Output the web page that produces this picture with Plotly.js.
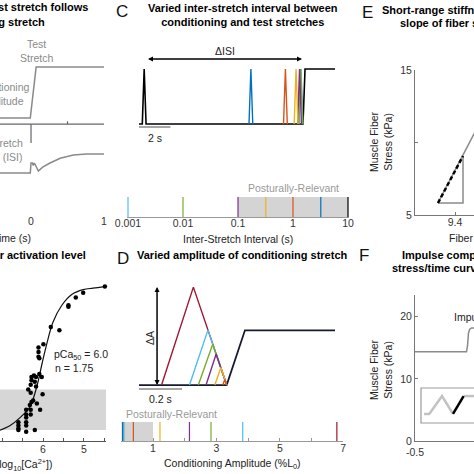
<!DOCTYPE html>
<html>
<head>
<meta charset="utf-8">
<script src="https://cdn.plot.ly/plotly-3.0.1.min.js"></script>
<style>
  html, body { margin: 0; padding: 0; background: #fff; }
  #plot { width: 474px; height: 474px; }
</style>
</head>
<body>
<div id="plot"></div>
<script>
// ---- panel A: schematic of conditioning + test stretch (time in s, schematic units)
var aLengthT = [-0.43, -0.01, 0.07, 1.0];
var aLengthY = [6.31, 6.31, 9.55, 9.55];
var aIsiT = [-0.43, 1.0, null, 0.5, 0.5, null, 0, 0];
var aIsiY = [5.92, 5.92, null, 5.92, 6.1, null, 5.92, 4.71];
var aForceT = [-0.43, -0.01, 0.0, 0.02, 0.03, 0.045, 0.06, 0.10, 0.16, 0.26, 0.40, 0.58, 0.76, 1.0];
var aForceY = [2.80, 2.80, 3.44, 3.44, 3.28, 3.44, 3.31, 2.93, 3.18, 3.44, 3.74, 3.95, 4.01, 4.01];

// ---- panel B: activation vs pCa
var pCaFit = [7.05, 6.80, 6.56, 6.32, 6.15, 6.02, 5.90, 5.76, 5.54, 5.29, 5.02, 4.78, 4.49];
var forceFit = [0.07, 0.10, 0.15, 0.22, 0.35, 0.50, 0.63, 0.76, 0.87, 0.94, 0.97, 0.98, 0.99];
var pCaPts = [4.49, 5.02, 5.20, 5.38, 5.38, 5.60, 5.81, 5.99, 6.11, 6.11, 6.11, 6.09, 6.22, 6.28,
  6.28, 6.20, 6.03, 6.30, 6.30, 6.17, 6.24, 6.28, 6.15, 6.01, 6.07, 6.20, 6.41, 6.41, 6.41, 6.41,
  6.41, 6.41, 6.60, 6.60, 6.60, 6.60, 6.32, 6.36, 6.09, 6.17, 6.30, 6.30];
var forcePts = [0.99, 0.95, 0.92, 0.87, 0.86, 0.71, 0.73, 0.62, 0.60, 0.57, 0.54, 0.53, 0.42, 0.41,
  0.39, 0.38, 0.41, 0.36, 0.31, 0.35, 0.26, 0.25, 0.24, 0.30, 0.20, 0.07, 0.20, 0.17, 0.15, 0.12,
  0.10, 0.06, 0.12, 0.10, 0.08, 0.07, 0.23, 0.33, 0.43, 0.41, 0.20, 0.17];
var activationBand = [0.07, 0.33];

// ---- panel C: inter-stretch intervals (s)
var isiValues = [0.001, 0.01, 0.1, 0.32, 1, 3.2, 10];
var isiColors = ['#4DBEEE', '#77AC30', '#7E2F8E', '#EDB120', '#D95319', '#0072BD', '#000000'];
var isiTickVals = [0.001, 0.01, 0.1, 1, 10];
var isiTickText = ['0.001', '0.01', '0.1', '1', '10'];
var posturalIsi = [0.1, 10];
// inset: black trace (first conditioning spike + test stretch), colored spike apex times
var cBlackT = [-10.45, -10.24, -10.12, -10.0, 0, 0.13, 2.04];
var cBlackY = [0, 0, 1, 0, 0, 1, 1];
var cSpikeApex = [-0.13, -0.14, -0.22, -0.44, -1.12, -3.32];
var cSpikeHalf = 0.12;

// ---- panel D: conditioning amplitudes (%L0)
var ampValues = [0.04, 0.08, 0.38, 1.22, 2.15, 2.83, 3.83, 6.8];
var ampColors = ['#0072BD', '#4a9fb5', '#D95319', '#EDB120', '#7E2F8E', '#77AC30', '#4DBEEE', '#A2142F'];
var ampTickVals = [1, 2, 3, 4, 5, 6, 7];
var ampTickText = ['1', '', '3', '', '5', '', '7'];
var posturalAmp = [0, 1];
var dBlackT = [0, 0.408, 0.493, 0.912];
var dBlackY = [0, 0, 3.8, 3.8];
var dCondStart = [0.105, 0.235, 0.276, 0.312, 0.353, 0.39];
var dCondApex = [0.253, 0.321, 0.343, 0.359, 0.381, 0.399];
var dCondAmp = [6.8, 3.83, 2.83, 2.15, 1.22, 0.38];
var dCondEnd = 0.408;
var dCondColors = ['#A2142F', '#4DBEEE', '#77AC30', '#7E2F8E', '#EDB120', '#D95319'];

// ---- panel E: stress vs fiber length
var eLength = [9.3575, 9.42, 9.435, 9.45];
var eStress = [5.83, 9.07, 9.95, 10.72];
var eTriL = [9.3575, 9.42, 9.42];
var eTriS = [5.83, 5.83, 9.07];
var eSlopeL = [9.3575, 9.42];
var eSlopeS = [5.83, 9.07];

// ---- panel F: stress vs time
var fTime = [-0.5, -0.294, -0.29, -0.286, -0.281, -0.274, -0.26];
var fStress = [14.35, 14.35, 15.3, 17.4, 18.0, 18.2, 18.2];
var fInsetGrayT = [0.04, 0.14, 0.385, 0.596, null, 0.80, 1.0];
var fInsetGrayY = [0.26, 0.26, 0.77, 0.26, null, 0.77, 0.77];
var fInsetBlackT = [0.596, 0.80];
var fInsetBlackY = [0.26, 0.77];

var W = 474;
function px(x) { return x / W; }
function py(y) { return 1 - y / W; }
var FONT = 'Liberation Sans, Arial, Helvetica, sans-serif';
var GRAY = '#8a8a8a';

function line(x, y, xa, ya, color, width, dash) {
  return {x: x, y: y, xaxis: xa, yaxis: ya, type: 'scatter', mode: 'lines',
    line: {color: color, width: width, dash: dash || 'solid'}, hoverinfo: 'skip', cliponaxis: false};
}

var data = [];
// A
data.push(line(aLengthT, aLengthY, 'x', 'y', GRAY, 1.5));
data.push(line(aIsiT, aIsiY, 'x', 'y', '#666', 1.2));
data.push(line(aForceT, aForceY, 'x', 'y', GRAY, 1.5));
// B
data.push({x: pCaFit, y: forceFit, xaxis: 'x2', yaxis: 'y2', type: 'scatter', mode: 'lines',
  line: {color: '#111', width: 1.2, shape: 'spline'}, hoverinfo: 'skip', cliponaxis: false});
data.push({x: pCaPts, y: forcePts, xaxis: 'x2', yaxis: 'y2', type: 'scatter', mode: 'markers',
  marker: {color: '#000', size: 4.5}, hoverinfo: 'skip', cliponaxis: false});
// C inset
data.push(line(cBlackT, cBlackY, 'x3', 'y3', '#000', 1.6));
for (var i = 0; i < cSpikeApex.length; i++) {
  var a = cSpikeApex[i];
  data.push(line([a - cSpikeHalf, a, a + cSpikeHalf], [0, 1, 0], 'x3', 'y3', isiColors[i], 1.4));
}
// C ISI axis ticks
for (var j = 0; j < isiValues.length; j++) {
  data.push(line([isiValues[j], isiValues[j]], [0, 1], 'x4', 'y4', isiColors[j], 1.2));
}
// D inset
data.push(line(dBlackT, dBlackY, 'x5', 'y5', '#161a2e', 1.8));
for (var k = 0; k < dCondAmp.length; k++) {
  data.push(line([dCondStart[k], dCondApex[k], dCondEnd], [0, dCondAmp[k], 0], 'x5', 'y5', dCondColors[k], 1.4));
}
// D amplitude axis ticks
for (var m = 0; m < ampValues.length; m++) {
  data.push(line([ampValues[m], ampValues[m]], [0, 1], 'x6', 'y6', ampColors[m], 1.2));
}
// E
data.push(line(eLength, eStress, 'x7', 'y7', GRAY, 1.5));
data.push(line(eTriL, eTriS, 'x7', 'y7', GRAY, 1.5));
data.push(line(eSlopeL, eSlopeS, 'x7', 'y7', '#000', 2.5, '4px,2.5px'));
// F
data.push(line(fTime, fStress, 'x8', 'y8', GRAY, 1.5));
data.push(line(fInsetGrayT, fInsetGrayY, 'x9', 'y9', '#c2c2c2', 2.5));
data.push(line(fInsetBlackT, fInsetBlackY, 'x9', 'y9', '#000', 2.5));

var tickFont = {family: FONT, size: 10.5, color: '#333'};
function hidden(domain, range, anchor) {
  return {domain: domain, range: range, anchor: anchor, visible: false, fixedrange: true};
}
function shownX(domain, range, anchor, extra) {
  var ax = {domain: domain, range: range, anchor: anchor, showgrid: false, zeroline: false,
    showline: true, linecolor: '#777', linewidth: 1, ticks: 'inside', ticklen: 3, tickcolor: '#777',
    tickfont: tickFont, tickmode: 'array', fixedrange: true};
  for (var key in extra) ax[key] = extra[key];
  return ax;
}

function note(text, x, y, opts) {
  var a = {text: text, x: px(x), y: py(y), xref: 'paper', yref: 'paper', showarrow: false,
    xanchor: 'center', yanchor: 'middle', font: {family: FONT, size: 10.5, color: '#222'}};
  opts = opts || {};
  for (var key in opts) {
    if (key === 'size' || key === 'color') a.font[key] = opts[key];
    else a[key] = opts[key];
  }
  return a;
}

var annotations = [
  // A
  note('<b>Test stretch follows</b>', 90, 7, {xanchor: 'right', size: 11, color: '#000'}),
  note('<b>conditioning stretch</b>', 47, 22, {xanchor: 'right', size: 11, color: '#000'}),
  note('Test<br>Stretch', 36, 51, {color: GRAY}),
  note('Conditioning<br>Amplitude', 32, 94, {xanchor: 'right', color: GRAY}),
  note('Inter-Stretch<br>Interval (ISI)', 25, 150, {xanchor: 'right', color: GRAY}),
  note('Time (s)', 33, 238, {xanchor: 'right'}),
  // B
  note('<b>Varied fiber activation level</b>', 88, 255, {xanchor: 'right', size: 11, color: '#000'}),
  note('pCa<sub>50</sub> = 6.0', 52, 355, {xanchor: 'left'}),
  note('n = 1.75', 53, 368, {xanchor: 'left'}),
  note('pCa (-log<sub>10</sub>[Ca<sup>2+</sup>])', 55, 465, {xanchor: 'right'}),
  // C
  note('C', 122, 11, {size: 17, color: '#111'}),
  note('<b>Varied inter-stretch interval between<br>conditioning and test stretches</b>', 243, 15, {size: 11, color: '#000'}),
  note('\u0394ISI', 225, 51),
  {x: px(302), y: py(59), xref: 'paper', yref: 'paper', ax: -154, ay: 0, text: '', showarrow: true,
    arrowhead: 2, arrowsize: 1, arrowwidth: 1, arrowcolor: '#000'},
  {x: px(148), y: py(59), xref: 'paper', yref: 'paper', ax: 154, ay: 0, text: '', showarrow: true,
    arrowhead: 2, arrowsize: 1, arrowwidth: 1, arrowcolor: '#000'},
  note('2 s', 155, 138),
  note('Posturally-Relevant', 293, 188, {color: '#999'}),
  note('Inter-Stretch Interval (s)', 238, 239),
  // D
  note('D', 123, 258, {size: 17, color: '#111'}),
  note('<b>Varied amplitude of conditioning stretch</b>', 243, 255, {size: 11, color: '#000'}),
  {xref: 'x5', yref: 'y5', x: 0.084, y: 6.8, axref: 'x5', ayref: 'y5', ax: 0.084, ay: 0, text: '',
    showarrow: true, arrowhead: 2, arrowsize: 1, arrowwidth: 1, arrowcolor: '#000'},
  {xref: 'x5', yref: 'y5', x: 0.084, y: 0, axref: 'x5', ayref: 'y5', ax: 0.084, ay: 6.8, text: '',
    showarrow: true, arrowhead: 2, arrowsize: 1, arrowwidth: 1, arrowcolor: '#000'},
  note('\u0394A', 150, 338, {textangle: -90}),
  note('0.2 s', 160, 399),
  note('Posturally-Relevant', 171, 414, {color: '#999'}),
  note('Conditioning Amplitude (%L<sub>0</sub>)', 232, 464),
  // E
  note('E', 367, 12, {size: 17, color: '#111'}),
  note('<b>Short-range stiffness is the</b>', 380, 10, {xanchor: 'left', size: 11, color: '#000'}),
  note('<b>slope of fiber stress-length</b>', 398, 23, {xanchor: 'left', size: 11, color: '#000'}),
  note('Muscle Fiber<br>Stress (kPa)', 381, 142, {textangle: -90}),
  note('Fiber Length (mm)', 447, 238, {xanchor: 'left'}),
  // F
  note('F', 364, 256, {size: 17, color: '#111'}),
  note('<b>Impulse computed from</b>', 400, 255, {xanchor: 'left', size: 11, color: '#000'}),
  note('<b>stress/time curve</b>', 390, 268, {xanchor: 'left', size: 11, color: '#000'}),
  note('Muscle Fiber<br>Stress (kPa)', 381, 370, {textangle: -90}),
  note('Impulse', 452, 317, {xanchor: 'left'})
];

var shapes = [
  // activation band in B
  {type: 'rect', xref: 'x2 domain', yref: 'y2', x0: 0, x1: 1, y0: activationBand[0], y1: activationBand[1],
    fillcolor: '#d6d6d6', line: {width: 0}, layer: 'below'},
  // postural ISI band (data values on the log axis)
  {type: 'rect', xref: 'x4', yref: 'y4', x0: posturalIsi[0], x1: posturalIsi[1],
    y0: 0, y1: 1, fillcolor: '#d4d4d4', line: {width: 0}, layer: 'below'},
  // postural amplitude band
  {type: 'rect', xref: 'x6', yref: 'y6', x0: posturalAmp[0], x1: posturalAmp[1], y0: 0, y1: 1,
    fillcolor: '#d4d4d4', line: {width: 0}, layer: 'below'},
  // scale bars
  {type: 'line', xref: 'x3', yref: 'y3', x0: -10.45, x1: -8.45, y0: -0.055, y1: -0.055,
    line: {color: '#888', width: 1.5}},
  {type: 'line', xref: 'x5', yref: 'y5', x0: 0, x1: 0.2, y0: -0.28, y1: -0.28,
    line: {color: '#888', width: 1.5}},
  // inset frame in F
  {type: 'rect', xref: 'paper', yref: 'paper', x0: px(421), x1: 1.05, y0: py(423), y1: py(388),
    line: {color: '#9a9a9a', width: 1.2}, fillcolor: 'rgba(0,0,0,0)'}
];

var layout = {
  width: 474, height: 474,
  margin: {l: 0, r: 0, t: 0, b: 0, pad: 0},
  paper_bgcolor: '#fff', plot_bgcolor: 'rgba(0,0,0,0)',
  showlegend: false,
  font: {family: FONT, size: 10.5, color: '#333'},
  xaxis: shownX([0, px(104)], [-0.425, 1.0], 'y', {showline: false, ticks: '', tickvals: [0, 1], ticktext: ['0', '1'], ticklabelstandoff: -4}),
  yaxis: hidden([py(217), py(60)], [0, 10], 'x'),
  xaxis2: shownX([0, px(106)], [7.049, 4.463], 'y2', {tickvals: [7, 6.5, 6, 5.5, 5, 4.5], ticktext: ['7', '', '6', '', '5', ''], linecolor: '#555', tickcolor: '#555', ticklabelstandoff: -2}),
  yaxis2: hidden([py(441), py(280)], [0, 1.032], 'x2'),
  xaxis3: hidden([px(139), px(335)], [-10.45, 2.04], 'y3'),
  yaxis3: hidden([py(129.5), py(66.25)], [-0.1, 1.05], 'x3'),
  xaxis4: shownX([px(126.9), px(349.1)], [-3.02, 1.02], 'y4', {type: 'log', ticks: '', tickvals: isiTickVals, ticktext: isiTickText, linecolor: '#999', ticklabelstandoff: -4}),
  yaxis4: hidden([py(217), py(197)], [0, 1], 'x4'),
  xaxis5: hidden([px(139), px(335)], [0, 0.912], 'y5'),
  yaxis5: hidden([py(390.8), py(282.8)], [-0.4, 7.1], 'x5'),
  xaxis6: shownX([px(121.3), px(343.2)], [0, 7], 'y6', {tickvals: ampTickVals, ticktext: ampTickText, linecolor: '#999', tickcolor: '#999', ticklabelstandoff: -3}),
  yaxis6: hidden([py(441), py(422)], [0, 1], 'x6'),
  xaxis7: shownX([px(415), 1], [9.3, 9.4475], 'y7', {tickvals: [9.4], ticktext: ['9.4'], ticklabelstandoff: -3}),
  yaxis7: shownX([py(215), py(70)], [5, 15], 'x7', {tickvals: [5, 10, 15], ticktext: ['5', '', '15']}),
  xaxis8: shownX([px(415), 1], [-0.5, -0.264], 'y8', {tickvals: [-0.5], ticktext: ['-0.5'], ticklabelstandoff: 1}),
  yaxis8: shownX([py(441), py(295)], [0, 23.5], 'x8', {tickvals: [0, 10, 20], ticktext: ['0', '10', '20']}),
  xaxis9: hidden([px(422), 1], [0, 1], 'y9'),
  yaxis9: hidden([py(423), py(388)], [0, 1], 'x9'),
  annotations: annotations,
  shapes: shapes
};

Plotly.newPlot('plot', data, layout, {staticPlot: true, displayModeBar: false});
</script>
</body>
</html>
